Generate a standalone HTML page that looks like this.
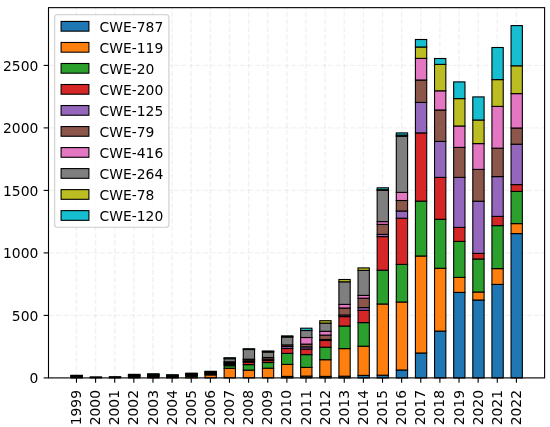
<!DOCTYPE html>
<html><head><meta charset="utf-8"><title>CWE by year</title>
<style>html,body{margin:0;padding:0;background:#fff}svg{display:block}text{font-family:"DejaVu Sans","Liberation Sans",sans-serif;font-size:13.89px;fill:#000}</style></head><body>
<svg width="550" height="427" viewBox="0 0 550 427">
<rect width="550" height="427" fill="#fff"/>
<g stroke="#b0b0b0" stroke-opacity="0.18" stroke-width="1.39" stroke-dasharray="5.14 2.22" fill="none">
<path d="M76.46 377.90V7.65"/>
<path d="M95.59 377.90V7.65"/>
<path d="M114.72 377.90V7.65"/>
<path d="M133.84 377.90V7.65"/>
<path d="M152.97 377.90V7.65"/>
<path d="M172.10 377.90V7.65"/>
<path d="M191.23 377.90V7.65"/>
<path d="M210.36 377.90V7.65"/>
<path d="M229.48 377.90V7.65"/>
<path d="M248.61 377.90V7.65"/>
<path d="M267.74 377.90V7.65"/>
<path d="M286.87 377.90V7.65"/>
<path d="M306.00 377.90V7.65"/>
<path d="M325.12 377.90V7.65"/>
<path d="M344.25 377.90V7.65"/>
<path d="M363.38 377.90V7.65"/>
<path d="M382.51 377.90V7.65"/>
<path d="M401.64 377.90V7.65"/>
<path d="M420.76 377.90V7.65"/>
<path d="M439.89 377.90V7.65"/>
<path d="M459.02 377.90V7.65"/>
<path d="M478.15 377.90V7.65"/>
<path d="M497.28 377.90V7.65"/>
<path d="M516.40 377.90V7.65"/>
<path d="M48.50 377.90H544.60"/>
<path d="M48.50 315.40H544.60"/>
<path d="M48.50 252.90H544.60"/>
<path d="M48.50 190.40H544.60"/>
<path d="M48.50 127.90H544.60"/>
<path d="M48.50 65.40H544.60"/>
</g>
<g stroke="#000" stroke-width="1.1" stroke-linejoin="miter">
<rect x="71.11" y="377.00" width="11.30" height="0.90" fill="#ff7f0e"/>
<rect x="71.11" y="376.60" width="11.30" height="0.40" fill="#2ca02c"/>
<rect x="71.11" y="376.30" width="11.30" height="0.30" fill="#d62728"/>
<rect x="71.11" y="376.00" width="11.30" height="0.30" fill="#8c564b"/>
<rect x="71.11" y="375.70" width="11.30" height="0.30" fill="#7f7f7f"/>
<rect x="71.11" y="375.50" width="11.30" height="0.20" fill="#bcbd22"/>
<rect x="71.11" y="375.35" width="11.30" height="0.15" fill="#17becf"/>
<rect x="90.24" y="377.20" width="11.30" height="0.70" fill="#2ca02c"/>
<rect x="90.24" y="377.00" width="11.30" height="0.20" fill="#7f7f7f"/>
<rect x="109.37" y="377.10" width="11.30" height="0.80" fill="#2ca02c"/>
<rect x="109.37" y="376.75" width="11.30" height="0.35" fill="#7f7f7f"/>
<rect x="128.49" y="376.90" width="11.30" height="1.00" fill="#ff7f0e"/>
<rect x="128.49" y="376.30" width="11.30" height="0.60" fill="#2ca02c"/>
<rect x="128.49" y="375.80" width="11.30" height="0.50" fill="#d62728"/>
<rect x="128.49" y="375.50" width="11.30" height="0.30" fill="#8c564b"/>
<rect x="128.49" y="375.00" width="11.30" height="0.50" fill="#7f7f7f"/>
<rect x="128.49" y="374.70" width="11.30" height="0.30" fill="#bcbd22"/>
<rect x="128.49" y="374.35" width="11.30" height="0.35" fill="#17becf"/>
<rect x="147.62" y="376.70" width="11.30" height="1.20" fill="#ff7f0e"/>
<rect x="147.62" y="376.10" width="11.30" height="0.60" fill="#2ca02c"/>
<rect x="147.62" y="375.30" width="11.30" height="0.80" fill="#d62728"/>
<rect x="147.62" y="375.00" width="11.30" height="0.30" fill="#8c564b"/>
<rect x="147.62" y="374.50" width="11.30" height="0.50" fill="#7f7f7f"/>
<rect x="147.62" y="374.20" width="11.30" height="0.30" fill="#bcbd22"/>
<rect x="147.62" y="373.85" width="11.30" height="0.35" fill="#17becf"/>
<rect x="166.75" y="376.90" width="11.30" height="1.00" fill="#ff7f0e"/>
<rect x="166.75" y="376.40" width="11.30" height="0.50" fill="#2ca02c"/>
<rect x="166.75" y="375.90" width="11.30" height="0.50" fill="#d62728"/>
<rect x="166.75" y="375.60" width="11.30" height="0.30" fill="#8c564b"/>
<rect x="166.75" y="375.30" width="11.30" height="0.30" fill="#7f7f7f"/>
<rect x="166.75" y="375.10" width="11.30" height="0.20" fill="#bcbd22"/>
<rect x="166.75" y="374.85" width="11.30" height="0.25" fill="#17becf"/>
<rect x="185.88" y="376.30" width="11.30" height="1.60" fill="#ff7f0e"/>
<rect x="185.88" y="375.30" width="11.30" height="1.00" fill="#2ca02c"/>
<rect x="185.88" y="374.80" width="11.30" height="0.50" fill="#d62728"/>
<rect x="185.88" y="374.50" width="11.30" height="0.30" fill="#8c564b"/>
<rect x="185.88" y="373.70" width="11.30" height="0.80" fill="#7f7f7f"/>
<rect x="185.88" y="373.50" width="11.30" height="0.20" fill="#bcbd22"/>
<rect x="185.88" y="373.20" width="11.30" height="0.30" fill="#17becf"/>
<rect x="205.01" y="374.90" width="11.30" height="3.00" fill="#ff7f0e"/>
<rect x="205.01" y="374.00" width="11.30" height="0.90" fill="#2ca02c"/>
<rect x="205.01" y="373.50" width="11.30" height="0.50" fill="#d62728"/>
<rect x="205.01" y="373.10" width="11.30" height="0.40" fill="#8c564b"/>
<rect x="205.01" y="372.00" width="11.30" height="1.10" fill="#7f7f7f"/>
<rect x="205.01" y="371.70" width="11.30" height="0.30" fill="#bcbd22"/>
<rect x="205.01" y="371.30" width="11.30" height="0.40" fill="#17becf"/>
<rect x="224.13" y="368.30" width="11.30" height="9.60" fill="#ff7f0e"/>
<rect x="224.13" y="365.70" width="11.30" height="2.60" fill="#2ca02c"/>
<rect x="224.13" y="364.50" width="11.30" height="1.20" fill="#d62728"/>
<rect x="224.13" y="363.70" width="11.30" height="0.80" fill="#9467bd"/>
<rect x="224.13" y="362.60" width="11.30" height="1.10" fill="#8c564b"/>
<rect x="224.13" y="361.80" width="11.30" height="0.80" fill="#e377c2"/>
<rect x="224.13" y="358.70" width="11.30" height="3.10" fill="#7f7f7f"/>
<rect x="224.13" y="358.20" width="11.30" height="0.50" fill="#bcbd22"/>
<rect x="224.13" y="357.80" width="11.30" height="0.40" fill="#17becf"/>
<rect x="243.26" y="370.10" width="11.30" height="7.80" fill="#ff7f0e"/>
<rect x="243.26" y="364.60" width="11.30" height="5.50" fill="#2ca02c"/>
<rect x="243.26" y="362.20" width="11.30" height="2.40" fill="#d62728"/>
<rect x="243.26" y="361.40" width="11.30" height="0.80" fill="#9467bd"/>
<rect x="243.26" y="359.90" width="11.30" height="1.50" fill="#8c564b"/>
<rect x="243.26" y="359.20" width="11.30" height="0.70" fill="#e377c2"/>
<rect x="243.26" y="349.50" width="11.30" height="9.70" fill="#7f7f7f"/>
<rect x="243.26" y="349.20" width="11.30" height="0.30" fill="#bcbd22"/>
<rect x="243.26" y="348.80" width="11.30" height="0.40" fill="#17becf"/>
<rect x="262.39" y="368.20" width="11.30" height="9.70" fill="#ff7f0e"/>
<rect x="262.39" y="362.50" width="11.30" height="5.70" fill="#2ca02c"/>
<rect x="262.39" y="360.50" width="11.30" height="2.00" fill="#d62728"/>
<rect x="262.39" y="359.20" width="11.30" height="1.30" fill="#9467bd"/>
<rect x="262.39" y="357.50" width="11.30" height="1.70" fill="#8c564b"/>
<rect x="262.39" y="352.10" width="11.30" height="5.40" fill="#7f7f7f"/>
<rect x="262.39" y="351.50" width="11.30" height="0.60" fill="#bcbd22"/>
<rect x="262.39" y="351.00" width="11.30" height="0.50" fill="#17becf"/>
<rect x="281.52" y="376.40" width="11.30" height="1.50" fill="#1f77b4"/>
<rect x="281.52" y="364.40" width="11.30" height="12.00" fill="#ff7f0e"/>
<rect x="281.52" y="353.40" width="11.30" height="11.00" fill="#2ca02c"/>
<rect x="281.52" y="348.50" width="11.30" height="4.90" fill="#d62728"/>
<rect x="281.52" y="346.50" width="11.30" height="2.00" fill="#9467bd"/>
<rect x="281.52" y="344.90" width="11.30" height="1.60" fill="#8c564b"/>
<rect x="281.52" y="337.00" width="11.30" height="7.90" fill="#7f7f7f"/>
<rect x="281.52" y="336.50" width="11.30" height="0.50" fill="#bcbd22"/>
<rect x="281.52" y="335.90" width="11.30" height="0.60" fill="#17becf"/>
<rect x="300.65" y="376.10" width="11.30" height="1.80" fill="#1f77b4"/>
<rect x="300.65" y="367.40" width="11.30" height="8.70" fill="#ff7f0e"/>
<rect x="300.65" y="354.60" width="11.30" height="12.80" fill="#2ca02c"/>
<rect x="300.65" y="349.00" width="11.30" height="5.60" fill="#d62728"/>
<rect x="300.65" y="346.90" width="11.30" height="2.10" fill="#9467bd"/>
<rect x="300.65" y="344.10" width="11.30" height="2.80" fill="#8c564b"/>
<rect x="300.65" y="337.50" width="11.30" height="6.60" fill="#e377c2"/>
<rect x="300.65" y="330.50" width="11.30" height="7.00" fill="#7f7f7f"/>
<rect x="300.65" y="328.20" width="11.30" height="2.30" fill="#17becf"/>
<rect x="319.77" y="376.40" width="11.30" height="1.50" fill="#1f77b4"/>
<rect x="319.77" y="359.70" width="11.30" height="16.70" fill="#ff7f0e"/>
<rect x="319.77" y="347.20" width="11.30" height="12.50" fill="#2ca02c"/>
<rect x="319.77" y="340.50" width="11.30" height="6.70" fill="#d62728"/>
<rect x="319.77" y="339.50" width="11.30" height="1.00" fill="#9467bd"/>
<rect x="319.77" y="335.10" width="11.30" height="4.40" fill="#8c564b"/>
<rect x="319.77" y="331.30" width="11.30" height="3.80" fill="#e377c2"/>
<rect x="319.77" y="323.10" width="11.30" height="8.20" fill="#7f7f7f"/>
<rect x="319.77" y="320.70" width="11.30" height="2.40" fill="#bcbd22"/>
<rect x="338.90" y="376.20" width="11.30" height="1.70" fill="#1f77b4"/>
<rect x="338.90" y="348.60" width="11.30" height="27.60" fill="#ff7f0e"/>
<rect x="338.90" y="326.00" width="11.30" height="22.60" fill="#2ca02c"/>
<rect x="338.90" y="316.60" width="11.30" height="9.40" fill="#d62728"/>
<rect x="338.90" y="315.00" width="11.30" height="1.60" fill="#9467bd"/>
<rect x="338.90" y="308.00" width="11.30" height="7.00" fill="#8c564b"/>
<rect x="338.90" y="304.40" width="11.30" height="3.60" fill="#e377c2"/>
<rect x="338.90" y="281.80" width="11.30" height="22.60" fill="#7f7f7f"/>
<rect x="338.90" y="279.50" width="11.30" height="2.30" fill="#bcbd22"/>
<rect x="358.03" y="375.40" width="11.30" height="2.50" fill="#1f77b4"/>
<rect x="358.03" y="346.20" width="11.30" height="29.20" fill="#ff7f0e"/>
<rect x="358.03" y="322.60" width="11.30" height="23.60" fill="#2ca02c"/>
<rect x="358.03" y="310.30" width="11.30" height="12.30" fill="#d62728"/>
<rect x="358.03" y="307.60" width="11.30" height="2.70" fill="#9467bd"/>
<rect x="358.03" y="298.20" width="11.30" height="9.40" fill="#8c564b"/>
<rect x="358.03" y="295.40" width="11.30" height="2.80" fill="#e377c2"/>
<rect x="358.03" y="270.40" width="11.30" height="25.00" fill="#7f7f7f"/>
<rect x="358.03" y="267.90" width="11.30" height="2.50" fill="#bcbd22"/>
<rect x="377.16" y="375.20" width="11.30" height="2.70" fill="#1f77b4"/>
<rect x="377.16" y="304.00" width="11.30" height="71.20" fill="#ff7f0e"/>
<rect x="377.16" y="270.20" width="11.30" height="33.80" fill="#2ca02c"/>
<rect x="377.16" y="236.60" width="11.30" height="33.60" fill="#d62728"/>
<rect x="377.16" y="234.40" width="11.30" height="2.20" fill="#9467bd"/>
<rect x="377.16" y="224.40" width="11.30" height="10.00" fill="#8c564b"/>
<rect x="377.16" y="221.60" width="11.30" height="2.80" fill="#e377c2"/>
<rect x="377.16" y="190.30" width="11.30" height="31.30" fill="#7f7f7f"/>
<rect x="377.16" y="189.70" width="11.30" height="0.60" fill="#bcbd22"/>
<rect x="377.16" y="187.80" width="11.30" height="1.90" fill="#17becf"/>
<rect x="396.29" y="370.00" width="11.30" height="7.90" fill="#1f77b4"/>
<rect x="396.29" y="302.00" width="11.30" height="68.00" fill="#ff7f0e"/>
<rect x="396.29" y="264.40" width="11.30" height="37.60" fill="#2ca02c"/>
<rect x="396.29" y="218.20" width="11.30" height="46.20" fill="#d62728"/>
<rect x="396.29" y="211.00" width="11.30" height="7.20" fill="#9467bd"/>
<rect x="396.29" y="200.50" width="11.30" height="10.50" fill="#8c564b"/>
<rect x="396.29" y="192.40" width="11.30" height="8.10" fill="#e377c2"/>
<rect x="396.29" y="136.30" width="11.30" height="56.10" fill="#7f7f7f"/>
<rect x="396.29" y="135.10" width="11.30" height="1.20" fill="#bcbd22"/>
<rect x="396.29" y="132.90" width="11.30" height="2.20" fill="#17becf"/>
<rect x="415.41" y="353.00" width="11.30" height="24.90" fill="#1f77b4"/>
<rect x="415.41" y="256.00" width="11.30" height="97.00" fill="#ff7f0e"/>
<rect x="415.41" y="201.10" width="11.30" height="54.90" fill="#2ca02c"/>
<rect x="415.41" y="132.90" width="11.30" height="68.20" fill="#d62728"/>
<rect x="415.41" y="102.40" width="11.30" height="30.50" fill="#9467bd"/>
<rect x="415.41" y="80.00" width="11.30" height="22.40" fill="#8c564b"/>
<rect x="415.41" y="58.40" width="11.30" height="21.60" fill="#e377c2"/>
<rect x="415.41" y="47.00" width="11.30" height="11.40" fill="#bcbd22"/>
<rect x="415.41" y="39.50" width="11.30" height="7.50" fill="#17becf"/>
<rect x="434.54" y="331.10" width="11.30" height="46.80" fill="#1f77b4"/>
<rect x="434.54" y="268.30" width="11.30" height="62.80" fill="#ff7f0e"/>
<rect x="434.54" y="219.30" width="11.30" height="49.00" fill="#2ca02c"/>
<rect x="434.54" y="177.40" width="11.30" height="41.90" fill="#d62728"/>
<rect x="434.54" y="141.40" width="11.30" height="36.00" fill="#9467bd"/>
<rect x="434.54" y="110.00" width="11.30" height="31.40" fill="#8c564b"/>
<rect x="434.54" y="90.80" width="11.30" height="19.20" fill="#e377c2"/>
<rect x="434.54" y="64.40" width="11.30" height="26.40" fill="#bcbd22"/>
<rect x="434.54" y="58.50" width="11.30" height="5.90" fill="#17becf"/>
<rect x="453.67" y="292.40" width="11.30" height="85.50" fill="#1f77b4"/>
<rect x="453.67" y="277.40" width="11.30" height="15.00" fill="#ff7f0e"/>
<rect x="453.67" y="241.40" width="11.30" height="36.00" fill="#2ca02c"/>
<rect x="453.67" y="227.40" width="11.30" height="14.00" fill="#d62728"/>
<rect x="453.67" y="177.40" width="11.30" height="50.00" fill="#9467bd"/>
<rect x="453.67" y="147.40" width="11.30" height="30.00" fill="#8c564b"/>
<rect x="453.67" y="126.00" width="11.30" height="21.40" fill="#e377c2"/>
<rect x="453.67" y="98.60" width="11.30" height="27.40" fill="#bcbd22"/>
<rect x="453.67" y="81.90" width="11.30" height="16.70" fill="#17becf"/>
<rect x="472.80" y="300.00" width="11.30" height="77.90" fill="#1f77b4"/>
<rect x="472.80" y="292.00" width="11.30" height="8.00" fill="#ff7f0e"/>
<rect x="472.80" y="259.00" width="11.30" height="33.00" fill="#2ca02c"/>
<rect x="472.80" y="253.40" width="11.30" height="5.60" fill="#d62728"/>
<rect x="472.80" y="201.20" width="11.30" height="52.20" fill="#9467bd"/>
<rect x="472.80" y="169.40" width="11.30" height="31.80" fill="#8c564b"/>
<rect x="472.80" y="143.60" width="11.30" height="25.80" fill="#e377c2"/>
<rect x="472.80" y="120.00" width="11.30" height="23.60" fill="#bcbd22"/>
<rect x="472.80" y="96.90" width="11.30" height="23.10" fill="#17becf"/>
<rect x="491.93" y="284.40" width="11.30" height="93.50" fill="#1f77b4"/>
<rect x="491.93" y="268.60" width="11.30" height="15.80" fill="#ff7f0e"/>
<rect x="491.93" y="225.60" width="11.30" height="43.00" fill="#2ca02c"/>
<rect x="491.93" y="216.40" width="11.30" height="9.20" fill="#d62728"/>
<rect x="491.93" y="176.60" width="11.30" height="39.80" fill="#9467bd"/>
<rect x="491.93" y="148.20" width="11.30" height="28.40" fill="#8c564b"/>
<rect x="491.93" y="106.40" width="11.30" height="41.80" fill="#e377c2"/>
<rect x="491.93" y="79.60" width="11.30" height="26.80" fill="#bcbd22"/>
<rect x="491.93" y="47.50" width="11.30" height="32.10" fill="#17becf"/>
<rect x="511.05" y="233.60" width="11.30" height="144.30" fill="#1f77b4"/>
<rect x="511.05" y="223.60" width="11.30" height="10.00" fill="#ff7f0e"/>
<rect x="511.05" y="191.40" width="11.30" height="32.20" fill="#2ca02c"/>
<rect x="511.05" y="184.60" width="11.30" height="6.80" fill="#d62728"/>
<rect x="511.05" y="144.20" width="11.30" height="40.40" fill="#9467bd"/>
<rect x="511.05" y="128.00" width="11.30" height="16.20" fill="#8c564b"/>
<rect x="511.05" y="93.60" width="11.30" height="34.40" fill="#e377c2"/>
<rect x="511.05" y="65.80" width="11.30" height="27.80" fill="#bcbd22"/>
<rect x="511.05" y="25.60" width="11.30" height="40.20" fill="#17becf"/>
</g>
<g stroke="#000" stroke-width="1.1" fill="none">
<path d="M76.46 377.90v4.86"/>
<path d="M95.59 377.90v4.86"/>
<path d="M114.72 377.90v4.86"/>
<path d="M133.84 377.90v4.86"/>
<path d="M152.97 377.90v4.86"/>
<path d="M172.10 377.90v4.86"/>
<path d="M191.23 377.90v4.86"/>
<path d="M210.36 377.90v4.86"/>
<path d="M229.48 377.90v4.86"/>
<path d="M248.61 377.90v4.86"/>
<path d="M267.74 377.90v4.86"/>
<path d="M286.87 377.90v4.86"/>
<path d="M306.00 377.90v4.86"/>
<path d="M325.12 377.90v4.86"/>
<path d="M344.25 377.90v4.86"/>
<path d="M363.38 377.90v4.86"/>
<path d="M382.51 377.90v4.86"/>
<path d="M401.64 377.90v4.86"/>
<path d="M420.76 377.90v4.86"/>
<path d="M439.89 377.90v4.86"/>
<path d="M459.02 377.90v4.86"/>
<path d="M478.15 377.90v4.86"/>
<path d="M497.28 377.90v4.86"/>
<path d="M516.40 377.90v4.86"/>
<path d="M48.50 377.90h-4.86"/>
<path d="M48.50 315.40h-4.86"/>
<path d="M48.50 252.90h-4.86"/>
<path d="M48.50 190.40h-4.86"/>
<path d="M48.50 127.90h-4.86"/>
<path d="M48.50 65.40h-4.86"/>
</g>
<rect x="48.50" y="7.65" width="496.10" height="370.25" fill="none" stroke="#000" stroke-width="1.1"/>
<text x="38.30" y="383.20" text-anchor="end">0</text>
<text x="38.30" y="320.70" text-anchor="end">500</text>
<text x="38.30" y="258.20" text-anchor="end">1000</text>
<text x="38.30" y="195.70" text-anchor="end">1500</text>
<text x="38.30" y="133.20" text-anchor="end">2000</text>
<text x="38.30" y="70.70" text-anchor="end">2500</text>
<text transform="translate(81.06 390.00) rotate(-90)" text-anchor="end">1999</text>
<text transform="translate(100.19 390.00) rotate(-90)" text-anchor="end">2000</text>
<text transform="translate(119.32 390.00) rotate(-90)" text-anchor="end">2001</text>
<text transform="translate(138.44 390.00) rotate(-90)" text-anchor="end">2002</text>
<text transform="translate(157.57 390.00) rotate(-90)" text-anchor="end">2003</text>
<text transform="translate(176.70 390.00) rotate(-90)" text-anchor="end">2004</text>
<text transform="translate(195.83 390.00) rotate(-90)" text-anchor="end">2005</text>
<text transform="translate(214.96 390.00) rotate(-90)" text-anchor="end">2006</text>
<text transform="translate(234.08 390.00) rotate(-90)" text-anchor="end">2007</text>
<text transform="translate(253.21 390.00) rotate(-90)" text-anchor="end">2008</text>
<text transform="translate(272.34 390.00) rotate(-90)" text-anchor="end">2009</text>
<text transform="translate(291.47 390.00) rotate(-90)" text-anchor="end">2010</text>
<text transform="translate(310.60 390.00) rotate(-90)" text-anchor="end">2011</text>
<text transform="translate(329.72 390.00) rotate(-90)" text-anchor="end">2012</text>
<text transform="translate(348.85 390.00) rotate(-90)" text-anchor="end">2013</text>
<text transform="translate(367.98 390.00) rotate(-90)" text-anchor="end">2014</text>
<text transform="translate(387.11 390.00) rotate(-90)" text-anchor="end">2015</text>
<text transform="translate(406.24 390.00) rotate(-90)" text-anchor="end">2016</text>
<text transform="translate(425.36 390.00) rotate(-90)" text-anchor="end">2017</text>
<text transform="translate(444.49 390.00) rotate(-90)" text-anchor="end">2018</text>
<text transform="translate(463.62 390.00) rotate(-90)" text-anchor="end">2019</text>
<text transform="translate(482.75 390.00) rotate(-90)" text-anchor="end">2020</text>
<text transform="translate(501.88 390.00) rotate(-90)" text-anchor="end">2021</text>
<text transform="translate(521.00 390.00) rotate(-90)" text-anchor="end">2022</text>
<rect x="54.6" y="14.6" width="114.3" height="212.8" rx="2.8" ry="2.8" fill="#fff" fill-opacity="0.8" stroke="#ccc" stroke-opacity="0.8" stroke-width="1.4"/>
<rect x="61.1" y="21.45" width="27.8" height="9.7" fill="#1f77b4" stroke="#000" stroke-width="1.1"/>
<text x="99.6" y="31.60">CWE-787</text>
<rect x="61.1" y="42.47" width="27.8" height="9.7" fill="#ff7f0e" stroke="#000" stroke-width="1.1"/>
<text x="99.6" y="52.62">CWE-119</text>
<rect x="61.1" y="63.49" width="27.8" height="9.7" fill="#2ca02c" stroke="#000" stroke-width="1.1"/>
<text x="99.6" y="73.64">CWE-20</text>
<rect x="61.1" y="84.51" width="27.8" height="9.7" fill="#d62728" stroke="#000" stroke-width="1.1"/>
<text x="99.6" y="94.66">CWE-200</text>
<rect x="61.1" y="105.53" width="27.8" height="9.7" fill="#9467bd" stroke="#000" stroke-width="1.1"/>
<text x="99.6" y="115.68">CWE-125</text>
<rect x="61.1" y="126.55" width="27.8" height="9.7" fill="#8c564b" stroke="#000" stroke-width="1.1"/>
<text x="99.6" y="136.70">CWE-79</text>
<rect x="61.1" y="147.57" width="27.8" height="9.7" fill="#e377c2" stroke="#000" stroke-width="1.1"/>
<text x="99.6" y="157.72">CWE-416</text>
<rect x="61.1" y="168.59" width="27.8" height="9.7" fill="#7f7f7f" stroke="#000" stroke-width="1.1"/>
<text x="99.6" y="178.74">CWE-264</text>
<rect x="61.1" y="189.61" width="27.8" height="9.7" fill="#bcbd22" stroke="#000" stroke-width="1.1"/>
<text x="99.6" y="199.76">CWE-78</text>
<rect x="61.1" y="210.63" width="27.8" height="9.7" fill="#17becf" stroke="#000" stroke-width="1.1"/>
<text x="99.6" y="220.78">CWE-120</text>
</svg></body></html>
